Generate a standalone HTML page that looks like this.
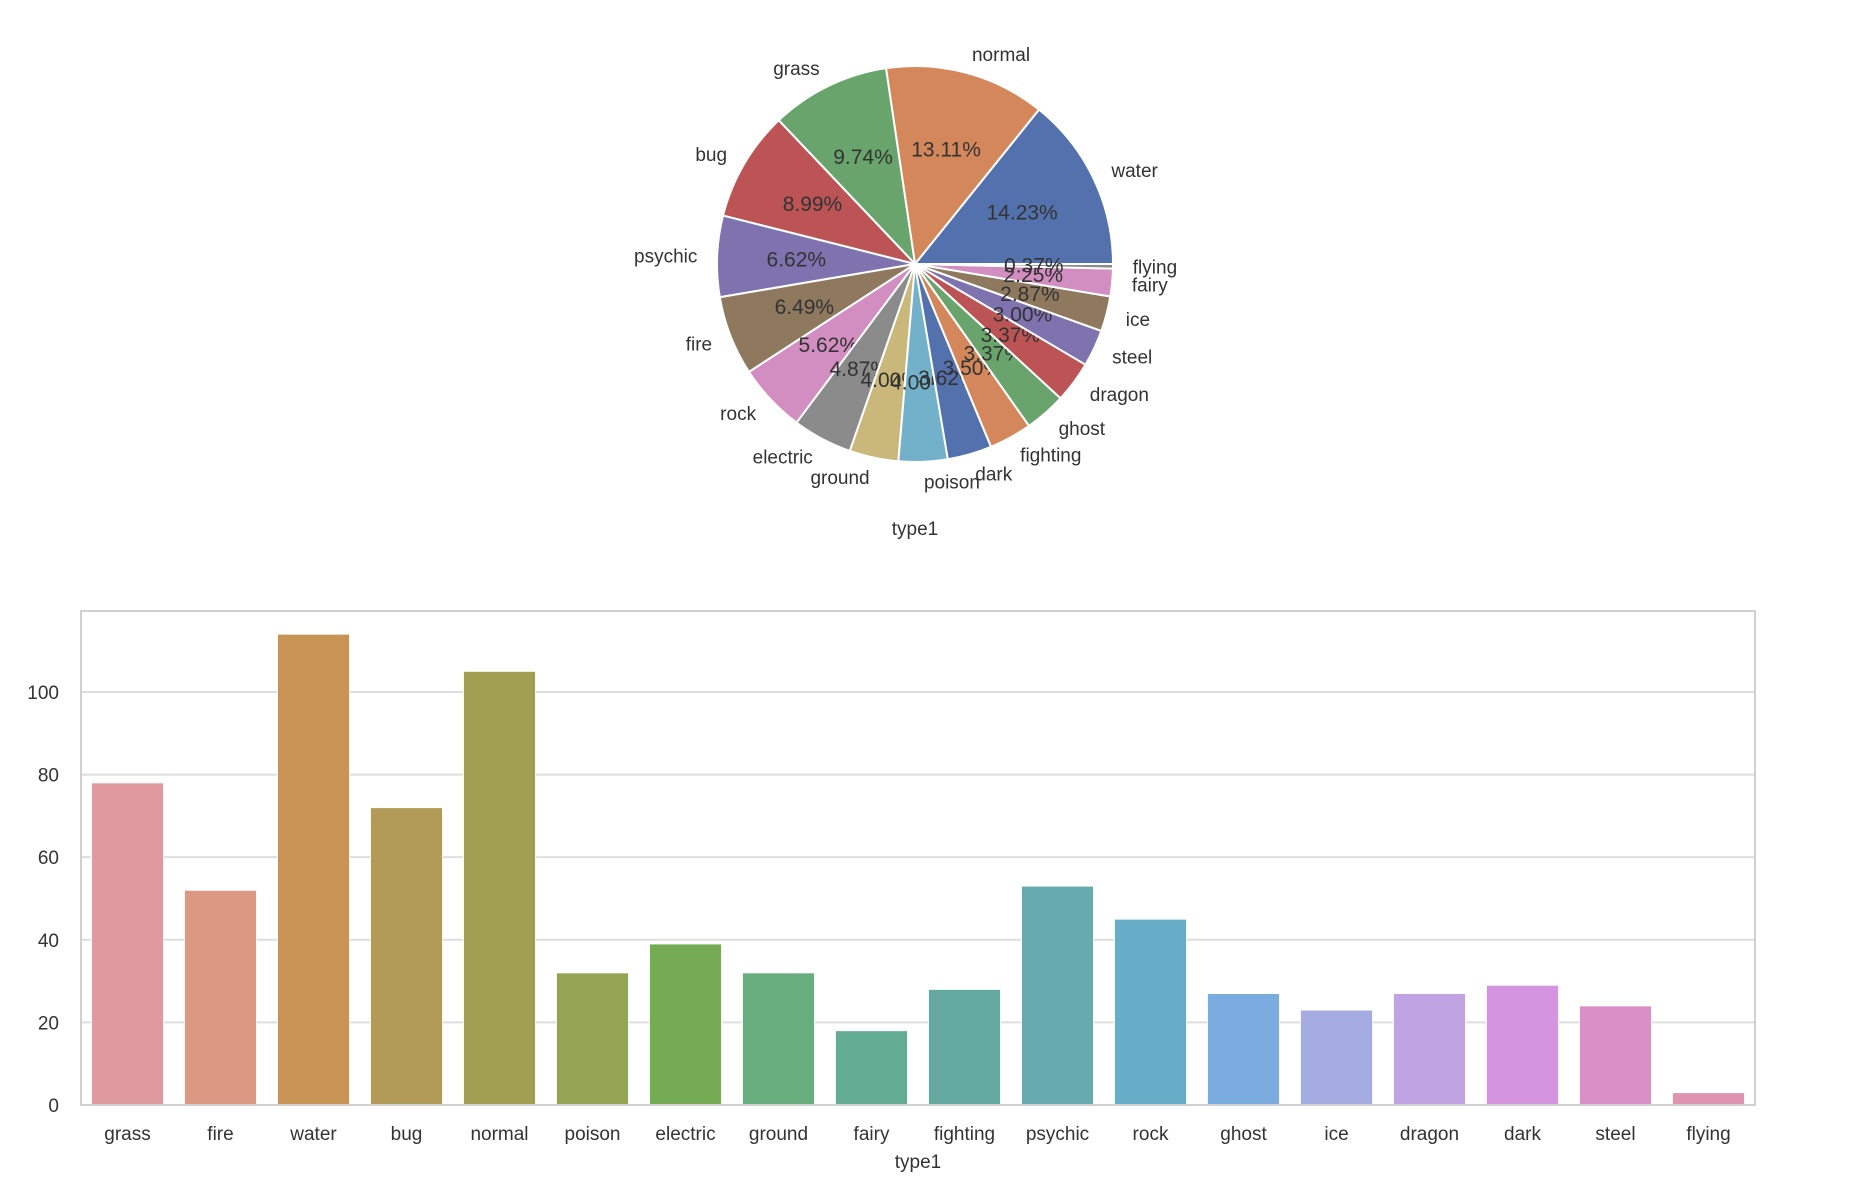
<!DOCTYPE html>
<html><head><meta charset="utf-8"><style>
html,body{margin:0;padding:0;background:#fff;}
svg{display:block;font-family:"Liberation Sans",sans-serif;}
</style></head><body>
<svg id="chart" width="1858" height="1188" viewBox="0 0 1858 1188">
<g id="pie"></g>
<g id="bar"></g>
</svg>
<script>
const barCategories = ["grass","fire","water","bug","normal","poison","electric","ground","fairy","fighting","psychic","rock","ghost","ice","dragon","dark","steel","flying"];
const barValues = [78,52,114,72,105,32,39,32,18,28,53,45,27,23,27,29,24,3];
const barColors = ["#E0999F","#DC9882","#C89456","#B29B56","#A39F52","#93A453","#74AB53","#67AD7E","#62AC94","#64A9A0","#66A9AE","#68ADC7","#7AACDF","#A5ACE2","#BFA3E3","#D494E0","#DA8FC6","#DE93AE"];
const yTicks = [0,20,40,60,80,100];
const pieCategories = ["water","normal","grass","bug","psychic","fire","rock","electric","ground","poison","dark","fighting","ghost","dragon","steel","ice","fairy","flying"];
const pieValues = [114,105,78,72,53,52,45,39,32,32,29,28,27,27,24,23,18,3];
const pieColors = ["#5371AC","#D3875A","#68A46B","#BC5355","#7E73AF","#8E795F","#D38EC1","#8B8B8B","#C9B87A","#72B1C9"];

const NS = "http://www.w3.org/2000/svg";
function mk(tag, attrs, parent){const e=document.createElementNS(NS,tag);for(const k in attrs)e.setAttribute(k,attrs[k]);parent.appendChild(e);return e;}

// ---- Bar chart ----
const bar = document.getElementById('bar');
const L=81, R=1755, T=611, B=1105, YMAX=119.6;
const xs = i => L + (i+0.5)*(R-L)/barCategories.length;
const ys = v => B - v*(B-T)/YMAX;
const bw = 0.8*(R-L)/barCategories.length*0.97;
yTicks.forEach(t=>{
  const g = mk('line',{x1:L,x2:R,y1:ys(t),y2:ys(t),stroke:'#dedede','stroke-width':2},bar);
  
  
  const tx = mk('text',{x:59,y:ys(t)+7,'text-anchor':'end','font-size':19,fill:'#333'},bar);
  tx.textContent = t;
  
  
});
barValues.forEach((v,i)=>{
  const r = mk('rect',{x:xs(i)-bw/2,y:ys(v),width:bw,height:ys(0)-ys(v),fill:barColors[i],stroke:'#fff','stroke-width':1},bar);
  
  
  const tx = mk('text',{x:xs(i),y:1140,'text-anchor':'middle','font-size':19,fill:'#333'},bar);
  tx.textContent = barCategories[i];
  
  
});
const frame = mk('rect',{x:L,y:T,width:R-L,height:B-T,fill:'none',stroke:'#d0d0d0','stroke-width':2},bar);


const xt = mk('text',{x:(L+R)/2,y:1168,'text-anchor':'middle','font-size':19,fill:'#333'},bar);
xt.textContent='type1';



// ---- Pie chart ----
const pie = document.getElementById('pie');
const cx=915, cy=264, rad=198;
const total = pieValues.reduce((a,b)=>a+b,0);
let ang = 0;
pieValues.forEach((v,i)=>{
  const a0 = ang, a1 = ang + v/total*2*Math.PI; ang = a1;
  const p0=[cx+rad*Math.cos(a0), cy-rad*Math.sin(a0)], p1=[cx+rad*Math.cos(a1), cy-rad*Math.sin(a1)];
  const large = (a1-a0)>Math.PI?1:0;
  const p = mk('path',{d:`M${cx},${cy} L${p0[0]},${p0[1]} A${rad},${rad} 0 ${large} 0 ${p1[0]},${p1[1]} Z`,fill:pieColors[i%pieColors.length],stroke:'#fff','stroke-width':2},pie);
  
  
  const am=(a0+a1)/2, c=Math.cos(am), s=Math.sin(am);
  const lb = mk('text',{x:cx+1.1*rad*c,y:cy-1.1*rad*s+7,'text-anchor':c>0?'start':'end','font-size':19,fill:'#333'},pie);
  lb.textContent = pieCategories[i];
  
  
  const pc = mk('text',{x:cx+0.6*rad*c,y:cy-0.6*rad*s+7,'text-anchor':'middle','font-size':21,fill:'#333'},pie);
  pc.textContent = (v/total*100).toFixed(2)+'%';
  
  
});
const pt = mk('text',{x:cx,y:535,'text-anchor':'middle','font-size':19,fill:'#333'},pie);
pt.textContent='type1';


</script>
</body></html>
